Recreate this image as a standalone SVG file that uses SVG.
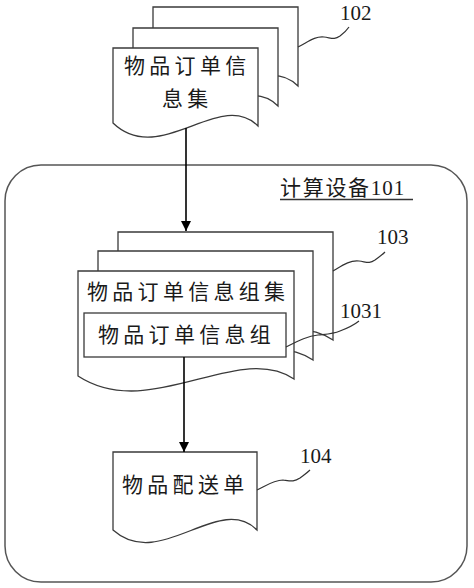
<svg xmlns="http://www.w3.org/2000/svg" width="474" height="588" viewBox="0 0 474 588">
<defs>
<style>
.doc{fill:#fff;stroke:#3a3a3a;stroke-width:1.3}
.cn{font-family:"Noto Sans CJK SC","Noto Sans CJK JP",sans-serif;font-size:21px;fill:#1a1a1a;letter-spacing:4.3px}
.num{font-family:"Liberation Serif",serif;font-size:21px;fill:#1a1a1a}
.lead{fill:none;stroke:#333;stroke-width:1.2}
.conn{fill:none;stroke:#000;stroke-width:1.6}
</style>
<marker id="arr" viewBox="0 0 10 10" refX="10" refY="5" markerWidth="10" markerHeight="10" markerUnits="userSpaceOnUse" orient="auto">
<path d="M0,0 L10,5 L0,10 Z" fill="#000"/>
</marker>
</defs>
<rect width="474" height="588" fill="#fff"/>

<g id="device101">
<rect x="5" y="165" width="462" height="417" rx="36" ry="36" fill="none" stroke="#555" stroke-width="1.5"/>
<text x="280" y="195" class="cn" style="letter-spacing:1.7px">计算设备<tspan class="num" style="letter-spacing:1px">101</tspan></text>
<line x1="280" y1="199.5" x2="413" y2="199.5" stroke="#333" stroke-width="1.3"/>
</g>

<g id="doc102">
<path class="doc" d="M153,7 H298 V86 C260,48 200,128 153,83 Z"/>
<path class="doc" d="M133,28 H278 V106 C240,68 180,148 133,103 Z"/>
<path class="doc" d="M113,48 H258 V126 C220,88 160,168 113,123 Z"/>
<text x="124" y="73" class="cn">物品订单信</text>
<text x="162" y="105.5" class="cn">息集</text>
<text x="340" y="20" class="num">102</text>
</g>

<g id="doc103">
<path class="doc" d="M118,232 H333 V340 C277,302 190,384 118,337 Z"/>
<path class="doc" d="M98,251 H313 V360 C257,322 170,404 98,357 Z"/>
<path class="doc" d="M78,271 H294 V379 C238,341 150,423 78,376 Z"/>
<text x="87" y="299" class="cn">物品订单信息组集</text>
<text x="377" y="244" class="num">103</text>
<g id="group1031">
<rect x="84" y="313" width="202" height="44" fill="#fff" stroke="#3a3a3a" stroke-width="1.3"/>
<text x="98" y="342" class="cn">物品订单信息组</text>
<text x="340" y="318" class="num">1031</text>
</g>
</g>

<g id="doc104">
<path class="doc" d="M113,452 H257 V530 C219,492 160,572 113,530 Z"/>
<text x="122" y="492" class="cn">物品配送单</text>
<text x="300" y="463" class="num">104</text>
</g>

<g id="leaders">
<path class="lead" d="M298,47 C308,42 315,36 324,37 C332,38 334,40 340,36 C344,33 347,30 349,27"/>
<path class="lead" d="M333,271 C343,265 350,260 359,261 C367,262 369,264 375,260 C379,257 382,255 385,252"/>
<path class="lead" d="M286,347 C300,340 308,336 318,335 C328,334 333,334 340,331 C348,328 354,325 359,321"/>
<path class="lead" d="M257,490 C267,485 274,480 283,480 C291,481 294,482 300,478 C304,475 307,473 310,470"/>
</g>

<g id="connectors">
<line class="conn" x1="186" y1="128" x2="186" y2="231" marker-end="url(#arr)"/>
<line class="conn" x1="184" y1="357" x2="184" y2="452" marker-end="url(#arr)"/>
</g>
</svg>
